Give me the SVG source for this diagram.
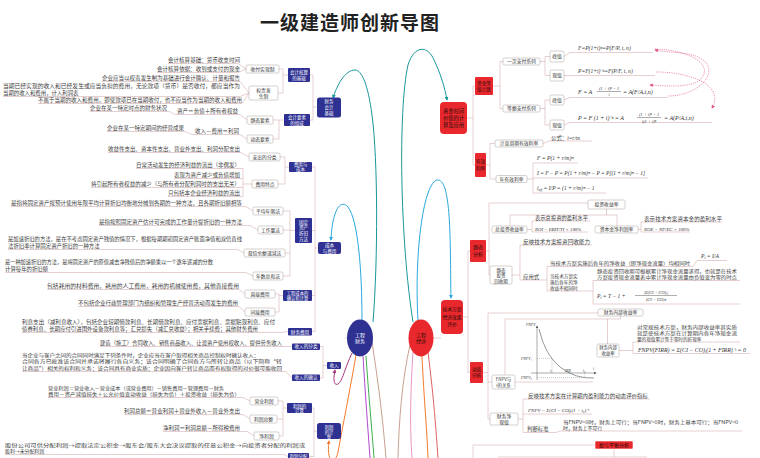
<svg xmlns="http://www.w3.org/2000/svg" width="760" height="458" viewBox="0 0 760 458">
<defs>
<style>
text{font-family:"Noto Sans CJK SC","Noto Sans",sans-serif}
.t{font-size:5.4px;fill:#3b3b3b}
.t5{font-size:4.9px;fill:#3b3b3b}
.f{font-family:"Liberation Serif","Noto Sans CJK SC",serif;font-style:italic;font-size:5.6px;fill:#333}
.fs{font-family:"Liberation Serif","Noto Sans CJK SC",serif;font-style:italic;font-size:4.4px;fill:#333;text-anchor:middle}
.bt{font-size:4.6px;fill:#fff;text-anchor:middle}
.wt{font-size:4.8px;fill:#333;text-anchor:middle}
.rt{font-size:4.8px;fill:#2a0a0a;text-anchor:middle}
.wb{fill:#fff;stroke:#a99c9c;stroke-width:.5}
.bb{fill:#2e3192}
.rb{fill:#e8282c}
.ln{fill:none;stroke:#d7aeb0;stroke-width:.6}
.c{fill:none;stroke-width:1}
.d{fill:none;stroke:#e2507c;stroke-width:.6;stroke-dasharray:1.2 1}
.ax{fill:none;stroke:#555;stroke-width:.5}
.dl{fill:none;stroke:#777;stroke-width:.4;stroke-dasharray:1 1}
.cl{font-family:"Liberation Serif",serif;font-style:italic;font-size:3.8px;fill:#333}
</style>
<marker id="mT" viewBox="0 0 10 10" refX="8" refY="5" markerWidth="4" markerHeight="4" orient="auto"><path d="M0,0L10,5L0,10z" fill="#17979c"/></marker>
<marker id="mC" viewBox="0 0 10 10" refX="8" refY="5" markerWidth="4" markerHeight="4" orient="auto"><path d="M0,0L10,5L0,10z" fill="#2aa8dc"/></marker>
<marker id="mM" viewBox="0 0 10 10" refX="8" refY="5" markerWidth="4" markerHeight="4" orient="auto"><path d="M0,0L10,5L0,10z" fill="#a6337c"/></marker>
<marker id="mO" viewBox="0 0 10 10" refX="8" refY="5" markerWidth="4" markerHeight="4" orient="auto"><path d="M0,0L10,5L0,10z" fill="#f47a2b"/></marker>
<marker id="mP" viewBox="0 0 10 10" refX="8" refY="5" markerWidth="6" markerHeight="6" orient="auto"><path d="M0,0L10,5L0,10z" fill="#e2507c"/></marker>
<marker id="mA" viewBox="0 0 10 10" refX="8" refY="5" markerWidth="6" markerHeight="6" orient="auto"><path d="M0,0L10,5L0,10z" fill="#555"/></marker>
</defs>
<rect width="760" height="458" fill="#fff"/>
<text x="350" y="30" text-anchor="middle" font-size="19" font-weight="bold" fill="#222" letter-spacing="1">一级建造师创新导图</text>

<g id="connectors">
<path class="ln" d="M168,63.5H238L246,69M157,72.5H238L246,69M102,81.5H240L249,93M3,96.5H240L249,93M38,103.5H242L249,93M90,111.5H168C172,111.5 172,114.5 177,114.5H240L247,120M107,131.5H184C188,131.5 189,134.5 193,134.5H240L247,139M108,152.5H241L249,157M136,168.5H243M174,178.5H243M91,187.5H243M168,196.5H243M243,168.5V196.5M243,184H252M11,206.5H246L253,211M99,225.5H250L258,230M8,249.5H238L244,253M5,272.5H246L253,276M47,289.5H239L245,294M78,306.5H239L245,312M22,332.5H282L288,331.5M100,346.5H292M22,371.5H286L292,378M48,397.5H243L250,401M124,414.5H243L250,419M163,431.5H247L254,436M5,454.5H284L288,456.5"/>
<path class="ln" d="M279,69H283V93H278M283,75H288M273,120H279V139H273M279,120H284M310,75H313V120H310M313,107H317M280,157H285V184H278M285,167H289M283,211H290V276H283M283,230H290M285,253H290M290,230.5H295M275,294H279V312H275M279,295.5H283M312,167H315V331.5H312M312,230.5H315M312,295.5H315M315,248H318M320,346.5H323V378H320M323,365.5H327M278,401H283V436H279M277,419H283M283,408H287M312,408H314V456.5H309M314,431H317M345,338H348"/>
<path class="ln" d="M467,118H473M473,86V165M473,86H475M473,165H475M493,86H500M503,61.5H500V108.5H503M540,61.5H545M550,56.5H545V75.5H550M540,108.5H545M550,100H545V125H550M564,56.5L570,52.5H652M564,75.5H655M564,100L570,97.5H668M564,125L570,122.5H712M486,165H490M495,143.5H490V179H496M543,143.5L549,141H592M527,179H533M533,163V193M533,163H578M533,178H648M533,193H606"/>
<path class="ln" d="M433,338H441M463,317H468M468,251V372.5M468,251H470M468,372.5H470M486,251H489M489,203V275H490M489,203H588M606.5,209V215M510,215H617M510,215V226M617,215V226M527,229.5H532M532,221V232M532,221H590M532,232H588M638,229.5H641M641,222V232M641,222H722M641,232H690M512,275H520M520,245V280M520,245H592M520,280H544M544,280H547M547,266.5V291M547,266.5H693L697,260.5H727M547,291H590M590,291H593M593,280.5V304M593,280.5H740M593,304H740"/>
<path class="ln" d="M483,372.5H488M488,313V419H490M488,313H598M488,382H492M620.5,316V319M505,319H620.5M607.5,319V344M505,319V375M619,350.5H633M633,342V353.5M633,342H740M633,353.5H750M515,382H593M518,419H523M523,399V432.5M523,399H650M523,414H592M523,432.5H556L560,431H742M473,445H595M473,445V458M614,449V457M498,457H647"/>
<path class="c" stroke="#17979c" marker-end="url(#mT)" d="M373,322C378,260 378,160 372,115C368,85 362,70 355,70C345,70 337,85 333,98"/>
<path class="c" stroke="#2aa8dc" marker-end="url(#mC)" d="M362,321C362,270 358,220 348,207C340,198 332,212 331,240"/>
<path class="c" stroke="#17979c" marker-end="url(#mT)" d="M413,322C400,240 398,110 408,65C414,45 428,45 434,60C440,72 445,88 447,100"/>
<path class="c" stroke="#2aa8dc" marker-end="url(#mC)" d="M418,321C414,250 424,180 438,180C452,180 450,250 451,298"/>
<path class="c" stroke="#a6337c" marker-end="url(#mM)" d="M352,353C345,368 342,382 338,384C334,386 333,380 335,370"/>
<path class="c" stroke="#f47a2b" marker-end="url(#mO)" d="M356,355C350,390 342,430 338,452C335,466 326,462 329,441"/>
<path class="c" stroke="#b04ad0" d="M363,356C365,390 368,430 370,458"/>
<path class="c" stroke="#3cb04a" stroke-width=".8" d="M366,356C369,400 372,430 374,458"/>
<path class="c" stroke="#c9a090" stroke-width=".8" d="M372,342C378,380 383,420 386,458"/>
<path class="c" stroke="#c9a090" stroke-width=".8" d="M410,345C402,380 399,420 398,458"/>
<path class="c" stroke="#e898c0" stroke-width=".8" d="M413,352C410,400 410,430 412,458"/>
<path class="c" stroke="#f47a2b" d="M422,356C424,400 427,430 428,458"/>
<path class="c" stroke="#e06060" stroke-width=".8" d="M428,352C434,400 436,430 438,458"/>
<path class="d" marker-end="url(#mP)" d="M655,49C690,50 715,65 700,80C690,88 665,86 650,85"/>
<path class="d" marker-end="url(#mP)" d="M656,72C690,72 725,85 712,108"/>
<path class="d" marker-end="url(#mP)" d="M668,96C700,96 722,70 700,58C690,52 670,53 655,50"/>
</g>

<g id="n-caiwu"><ellipse cx="360" cy="338" rx="13" ry="18.5" fill="#2e3192"/><text class="bt" style="font-size:5px" x="360" y="336.5">工程</text><text class="bt" style="font-size:5px" x="360" y="343">财务</text></g>
<g id="n-jingji"><ellipse cx="421" cy="338" rx="12.5" ry="18.5" fill="#e8282c"/><text class="rt" style="font-size:5px" x="421" y="336.5">工程</text><text class="rt" style="font-size:5px" x="421" y="343">经济</text></g>

<g id="n-cwkjjc"><rect class="bb" x="317" y="97.5" width="24" height="20" rx="2.5"/><text class="bt" style="font-size:4.4px" x="329" y="103.2">财务</text><text class="bt" style="font-size:4.4px" x="329" y="109.2">会计</text><text class="bt" style="font-size:4.4px" x="329" y="115.2">基础</text></g>
<g id="n-hsjc"><rect class="bb" x="288" y="68" width="22" height="14" rx="1"/><text class="bt" style="font-size:4.5px" x="299" y="73.8">会计核算</text><text class="bt" style="font-size:4.5px" x="299" y="79.5">的基础</text></g>
<g id="n-kjys"><rect class="bb" x="284" y="114" width="26" height="12" rx="1"/><text class="bt" style="font-size:4.5px" x="297" y="119">会计要素</text><text class="bt" style="font-size:4.5px" x="297" y="124.5">的组成</text></g>
<g id="n-cbfy"><rect class="bb" x="318" y="242" width="23" height="12" rx="2"/><text class="bt" x="329.5" y="247.3">成本</text><text class="bt" x="329.5" y="252.5">与费用</text></g>
<g id="n-fycb"><rect class="bb" x="289" y="162" width="23" height="10" rx="1"/><text class="bt" style="font-size:4.4px" x="300.5" y="166.3">费用与</text><text class="bt" style="font-size:4.4px" x="300.5" y="171">成本</text></g>
<g id="n-zjff"><rect class="bb" x="295" y="218" width="17" height="25" rx="1"/><text class="bt" style="font-size:4.6px" x="303.5" y="223.8">固定</text><text class="bt" style="font-size:4.6px" x="303.5" y="229.4">资产</text><text class="bt" style="font-size:4.6px" x="303.5" y="235">折旧</text><text class="bt" style="font-size:4.6px" x="303.5" y="240.6">方法</text></g>
<g id="n-gccb"><rect class="bb" x="283" y="290" width="29" height="11" rx="1"/><text class="bt" style="font-size:4.3px" x="297.5" y="294.8">工程成本的</text><text class="bt" style="font-size:4.3px" x="297.5" y="299.5">确认和计算</text></g>
<g id="n-cwfy"><rect class="bb" x="288" y="328" width="24" height="7.5" rx="1"/><text class="bt" x="300" y="333.5">财务费用</text></g>
<g id="n-sr"><rect class="bb" x="327" y="362" width="14" height="7" rx="1"/><text class="bt" x="334" y="367.3">收入</text></g>
<g id="n-srfl"><rect class="bb" x="292" y="343.5" width="28" height="6.5" rx="1"/><text class="bt" x="306" y="348.4">收入的分类</text></g>
<g id="n-srqr"><rect class="bb" x="292" y="374.5" width="28" height="6.5" rx="1"/><text class="bt" x="306" y="379.4">收入的确认</text></g>
<g id="n-lr"><rect class="bb" x="317" y="423" width="24" height="16" rx="2.5"/><text class="bt" style="font-size:4.3px" x="329" y="428.8">利润</text><text class="bt" style="font-size:4.3px" x="329" y="433.8">的计</text><text class="bt" style="font-size:4.3px" x="329" y="438.6">算</text></g>
<g id="n-lrjs"><rect class="bb" x="287" y="403" width="25" height="10" rx="1"/><text class="bt" style="font-size:4.4px" x="299.5" y="407.5">利润的</text><text class="bt" style="font-size:4.4px" x="299.5" y="412">计算</text></g>
<g id="n-lrfp"><rect class="bb" x="288" y="453" width="21" height="7" rx="1"/><text class="bt" style="font-size:4.4px" x="298.5" y="458">利润分配</text></g>

<g id="n-sfsx"><text class="t" x="168" y="62" textLength="72" lengthAdjust="spacingAndGlyphs">会计核算基础：货币收支时间</text><text class="t" x="157" y="71" textLength="83" lengthAdjust="spacingAndGlyphs">会计核算依据：收到或支付的现金</text><rect class="wb" x="246" y="65" width="33" height="8" rx="1.5"/><text class="wt" x="262.5" y="70.8">收付实现制</text></g>
<g id="n-qzfs"><text class="t" x="102" y="80" textLength="138" lengthAdjust="spacingAndGlyphs">企业应当以权责发生制为基础进行会计确认、计量和报告</text><text class="t" x="3" y="88" textLength="237" lengthAdjust="spacingAndGlyphs">当期已经实现的收入和已经发生或应当负担的费用，无论款项（货币）是否收付，都应当作为</text><text class="t" x="3" y="95">当期的收入和费用，计入利润表</text><text class="t" x="38" y="102" textLength="204" lengthAdjust="spacingAndGlyphs">不属于当期的收入和费用，即使款项已在当期收付，也不应当作为当期的收入和费用</text><rect class="wb" x="249" y="86" width="29" height="14" rx="1.5"/><text class="wt" x="263.5" y="92">权责发</text><text class="wt" x="263.5" y="98">生制</text></g>
<g id="n-jtys"><text class="t" x="90" y="110" textLength="77" lengthAdjust="spacingAndGlyphs">企业在某一特定时点的财务状况</text><text class="t" x="177" y="113" textLength="61" lengthAdjust="spacingAndGlyphs">资产＝负债＋所有者权益</text><rect class="wb" x="247" y="116" width="26" height="8" rx="1.5"/><text class="wt" x="260" y="121.8">静态要素</text></g>
<g id="n-dtys"><text class="t" x="107" y="130" textLength="77" lengthAdjust="spacingAndGlyphs">企业在某一特定期间的经营成果</text><text class="t" x="195" y="133" textLength="44" lengthAdjust="spacingAndGlyphs">收入－费用＝利润</text><rect class="wb" x="247" y="135" width="26" height="8" rx="1.5"/><text class="wt" x="260" y="140.8">动态要素</text></g>
<g id="n-zcfl"><text class="t" x="108" y="151" textLength="132" lengthAdjust="spacingAndGlyphs">收益性支出、资本性支出、营业外支出、利润分配支出</text><rect class="wb" x="249" y="153" width="31" height="8" rx="1.5"/><text class="wt" x="264.5" y="158.8">支出的分类</text></g>
<g id="n-fytd"><text class="t" x="136" y="167" textLength="104" lengthAdjust="spacingAndGlyphs">日常活动发生的经济利益的流出（非偶发）</text><text class="t" x="174" y="177" textLength="66" lengthAdjust="spacingAndGlyphs">表现为资产减少或负债增加</text><text class="t" x="91" y="186" textLength="149" lengthAdjust="spacingAndGlyphs">将引起所有者权益的减少（与所有者分配利润时的支出无关）</text><text class="t" x="168" y="195" textLength="72" lengthAdjust="spacingAndGlyphs">只包括本企业经济利益的流出</text><rect class="wb" x="252" y="180" width="26" height="8" rx="1.5"/><text class="wt" x="265" y="185.8">费用特点</text></g>
<g id="n-pjnx"><text class="t" x="11" y="205" textLength="231" lengthAdjust="spacingAndGlyphs">是指将固定资产按预计使用年限平均计算折旧均衡地分摊到各期的一种方法，且各期折旧额相等</text><rect class="wb" x="253" y="207" width="30" height="8" rx="1.5"/><text class="wt" x="268" y="212.8">平均年限法</text></g>
<g id="n-gzl"><text class="t" x="99" y="224" textLength="143" lengthAdjust="spacingAndGlyphs">是指按照固定资产估计可完成的工作量计提折旧的一种方法</text><rect class="wb" x="258" y="226" width="25" height="8" rx="1.5"/><text class="wt" x="270.5" y="231.8">工作量法</text></g>
<g id="n-sbye"><text class="t" x="8" y="241" textLength="234" lengthAdjust="spacingAndGlyphs">是加速折旧的方法，是在不考虑固定资产残值的情况下，根据每期期初固定资产账面净值和双倍直线</text><text class="t" x="8" y="248">法折旧率计算固定资产折旧的一种方法</text><rect class="wb" x="244" y="249" width="41" height="8" rx="1.5"/><text class="wt" x="264.5" y="254.8">双倍余额递减法</text></g>
<g id="n-nszh"><text class="t" x="5" y="264" textLength="208" lengthAdjust="spacingAndGlyphs">是一种加速折旧的方法，是将固定资产的原值减去净残值后的净额乘以一个逐年递减的分数</text><text class="t" x="5" y="271">计算每年的折旧额</text><rect class="wb" x="253" y="272" width="30" height="8" rx="1.5"/><text class="wt" x="268" y="277.8">年数总和法</text></g>
<g id="n-zjfy"><text class="t" x="47" y="288" textLength="192" lengthAdjust="spacingAndGlyphs">包括耗用的材料费用，耗用的人工费用，耗用的机械使用费，其他直接费用</text><rect class="wb" x="245" y="290" width="30" height="8" rx="1.5"/><text class="wt" x="260" y="295.8">直接费用</text></g>
<g id="n-jjfy"><text class="t" x="78" y="305" textLength="160" lengthAdjust="spacingAndGlyphs">不包括企业行政管理部门为组织和管理生产经营活动而发生的费用</text><rect class="wb" x="245" y="308" width="30" height="8" rx="1.5"/><text class="wt" x="260" y="313.8">间接费用</text></g>
<g id="n-lxzc"><text class="t" x="22" y="324" textLength="253" lengthAdjust="spacingAndGlyphs">利息支出（减利息收入），包括企业短期借款利息、长期借款利息、应付票据利息、票据贴现利息、应付</text><text class="t" x="22" y="331" textLength="236" lengthAdjust="spacingAndGlyphs">债券利息、长期应付引进国外设备款利息等；汇兑损失（减汇兑收益）；相关手续费；其他财务费用</text></g>
<g id="n-srlx"><text class="t" x="100" y="345" textLength="182" lengthAdjust="spacingAndGlyphs">建造（施工）合同收入、销售商品收入、让渡资产使用权收入、提供劳务收入</text></g>
<g id="n-srtj"><text class="t5" x="22" y="357" textLength="237" lengthAdjust="spacingAndGlyphs">当企业与客户之间的合同同时满足下列条件时，企业应当在客户取得相关商品控制权时确认收入：</text><text class="t5" x="22" y="363.3" textLength="260" lengthAdjust="spacingAndGlyphs">合同各方已批准该合同并承诺将履行各自义务；该合同明确了合同各方与所转让商品（以下简称“转</text><text class="t5" x="22" y="369.6" textLength="260" lengthAdjust="spacingAndGlyphs">让商品”）相关的权利和义务；该合同具有商业实质；企业因向客户转让商品而有权取得的对价很可能收回</text></g>
<g id="n-yylr"><text class="t5" x="48" y="390" textLength="176" lengthAdjust="spacingAndGlyphs">营业利润＝营业收入－营业成本（或营业费用）－销售费用－管理费用－财务</text><text class="t5" x="48" y="396.3" textLength="192" lengthAdjust="spacingAndGlyphs">费用－资产减值损失＋公允价值变动收益（损失为负）＋投资收益（损失为负）</text><rect class="wb" x="250" y="397" width="28" height="8" rx="1.5"/><text class="wt" x="264" y="402.8">营业利润</text></g>
<g id="n-lrze"><text class="t" x="124" y="413" textLength="116" lengthAdjust="spacingAndGlyphs">利润总额＝营业利润＋营业外收入－营业外支出</text><rect class="wb" x="250" y="415" width="27" height="8" rx="1.5"/><text class="wt" x="263.5" y="420.8">利润总额</text></g>
<g id="n-jlr"><text class="t" x="163" y="430" textLength="77" lengthAdjust="spacingAndGlyphs">净利润＝利润总额－所得税费用</text><rect class="wb" x="254" y="432" width="25" height="8" rx="1.5"/><text class="wt" x="266.5" y="437.8">净利润</text></g>
<g id="n-fpsx"><text class="t5" x="5" y="446.8" textLength="300" lengthAdjust="spacingAndGlyphs">股份公司可供分配利润→提取法定公积金→股东会/股东大会决议提取的任意公积金→向投资者分配的利润或</text><text class="t5" x="5" y="453.2">股利→未分配利润</text></g>

<g id="n-zjsj"><rect class="rb" x="440" y="102" width="27" height="32" rx="4"/><text class="rt" style="font-size:5.2px" x="453.5" y="113">资金时间</text><text class="rt" style="font-size:5.2px" x="453.5" y="120">价值的计</text><text class="rt" style="font-size:5.2px" x="453.5" y="127">算及应用</text></g>
<g id="n-zjdz"><rect class="rb" x="475" y="77" width="18" height="18" rx="1"/><text class="rt" style="font-size:4.6px" x="484" y="84.5">资金等</text><text class="rt" style="font-size:4.6px" x="484" y="91">值计算</text></g>
<g id="n-yczf"><rect class="wb" x="503" y="58" width="37" height="7" rx="1.5"/><text class="wt" x="521.5" y="63.4">一次支付系列</text></g>
<g id="n-zz1"><rect class="wb" x="550" y="51" width="14" height="11" rx="1.5"/><text class="wt" x="557" y="58.2">终值</text><text class="f" x="578" y="50">F=P(1+i)ⁿ=P(F/P, i, n)</text></g>
<g id="n-xz1"><rect class="wb" x="550" y="70" width="14" height="11" rx="1.5"/><text class="wt" x="557" y="77.2">现值</text><text class="f" x="578" y="73">P=F(1+i)⁻ⁿ=F(P/F, i, n)</text></g>
<g id="n-dezf"><rect class="wb" x="503" y="105" width="37" height="7" rx="1.5"/><text class="wt" x="521.5" y="110.4">等额支付系列</text></g>
<g id="n-zz2"><rect class="wb" x="550" y="95" width="14" height="10" rx="1.5"/><text class="wt" x="557" y="101.7">终值</text><text class="f" style="font-size:6px" x="578" y="94">F = A</text><text class="fs" x="609" y="90">(1 + i)ⁿ − 1</text><path d="M597,91.5H621" stroke="#333" stroke-width=".4"/><text class="fs" x="609" y="96">i</text><text class="f" style="font-size:6px" x="623" y="94">= A(F/A,i,n)</text></g>
<g id="n-xz2"><rect class="wb" x="550" y="120" width="14" height="10" rx="1.5"/><text class="wt" x="557" y="126.7">现值</text><text class="f" style="font-size:6px" x="578" y="119.5">P = F (1 + i)⁻ⁿ = A</text><text class="fs" x="649" y="116">(1 + i)ⁿ − 1</text><path d="M637,117.5H661" stroke="#333" stroke-width=".4"/><text class="fs" x="649" y="122.5">i(1 + i)ⁿ</text><text class="f" style="font-size:6px" x="664" y="119.5">= A(P/A,i,n)</text></g>
<g id="n-yxll"><rect class="rb" x="475" y="153" width="11" height="24" rx="1"/><text class="rt" style="font-size:4.6px" x="480.5" y="163">有效</text><text class="rt" style="font-size:4.6px" x="480.5" y="170">利率</text></g>
<g id="n-jxzq"><rect class="wb" x="495" y="140" width="48" height="7" rx="1.5"/><text class="wt" x="519" y="145.4">计息周期有效利率</text><text class="t" x="551" y="139.5">公式：<tspan class="f" style="font-size:5.4px">i=r/m</tspan></text></g>
<g id="n-nyxll"><rect class="wb" x="496" y="175.5" width="31" height="7" rx="1.5"/><text class="wt" x="511.5" y="180.9">年有效利率</text><text class="f" x="537" y="160">F = P(1 + r/m)ᵐ</text><text class="f" x="537" y="175" textLength="108" lengthAdjust="spacingAndGlyphs">I = F − P = P(1 + r/m)ᵐ − P = P[(1 + r/m)ᵐ − 1]</text><text class="f" x="537" y="190">i<tspan style="font-size:3.6px" dy="1">eff</tspan><tspan dy="-1"> = I/P = (1 + r/m)ᵐ − 1</tspan></text></g>

<g id="n-jjxg"><rect class="rb" x="441" y="300" width="22" height="34" rx="4"/><text class="rt" x="452" y="311">技术方案</text><text class="rt" x="452" y="318.5">经济效果</text><text class="rt" x="452" y="326">评价</text></g>
<g id="n-jtfx"><rect class="rb" x="470" y="240" width="16" height="22" rx="1"/><text class="rt" style="font-size:5px" x="478" y="249">静态</text><text class="rt" style="font-size:5px" x="478" y="256">分析</text></g>
<g id="n-tzsy"><rect class="wb" x="588" y="200" width="37" height="9" rx="1.5"/><text class="wt" x="606.5" y="206.4">投资收益率</text></g>
<g id="n-ztz"><rect class="wb" x="492" y="226" width="35" height="7" rx="1.5"/><text class="wt" x="509.5" y="231.4">总投资收益率</text><text class="t" x="535" y="219.8" textLength="53" lengthAdjust="spacingAndGlyphs">表示总投资的盈利水平</text><text class="f" style="font-size:4.8px" x="535" y="230.5">ROI = EBIT/TI × 100%</text></g>
<g id="n-zbj"><rect class="wb" x="595" y="226" width="43" height="7" rx="1.5"/><text class="wt" x="616.5" y="231.4">资本金净利润率</text><text class="t" x="644" y="220.5" textLength="78" lengthAdjust="spacingAndGlyphs">表示技术方案资本金的盈利水平</text><text class="f" style="font-size:4.8px" x="644" y="230.5">ROE = NP/EC × 100%</text></g>
<g id="n-hsq"><rect class="wb" x="490" y="266" width="22" height="18" rx="1.5"/><text class="wt" style="font-size:4.5px" x="501" y="271.5">静态</text><text class="wt" style="font-size:4.5px" x="501" y="277">投资</text><text class="wt" style="font-size:4.5px" x="501" y="282.5">回收期</text><text class="t" x="523" y="243.5" textLength="67" lengthAdjust="spacingAndGlyphs">反映技术方案投资回收能力</text><text class="t" x="523" y="278.5">应用式</text></g>
<g id="n-xt"><text class="t5" x="550" y="265" textLength="140" lengthAdjust="spacingAndGlyphs">当技术方案实施后各年的净收益（即净现金流量）均相同时</text><text class="f" x="701" y="258">P<tspan style="font-size:3.6px" dy="1">t</tspan><tspan dy="-1"> = I/A</tspan></text></g>
<g id="n-bxt"><text class="t5" style="font-size:4.6px" x="550" y="278">当技术方案实</text><text class="t5" style="font-size:4.6px" x="550" y="284">施后各年的净</text><text class="t5" style="font-size:4.6px" x="550" y="290">收益不相同时</text><text class="t5" x="597" y="273" textLength="140" lengthAdjust="spacingAndGlyphs">静态投资回收期可根据累计净现金流量求得，也就是在技术</text><text class="t5" x="597" y="279.3" textLength="140" lengthAdjust="spacingAndGlyphs">方案投资现金流量表中累计净现金流量由负值变为零的时点</text><text class="f" x="597" y="298">P<tspan style="font-size:3.6px" dy="1">t</tspan><tspan dy="-1"> = T − 1 +</tspan></text><text class="fs" x="656" y="294">|Σ(CI − CO)ₜ|</text><path d="M635,295.5H677" stroke="#333" stroke-width=".4"/><text class="fs" x="656" y="300.8">(CI − CO)ᴛ</text></g>
<g id="n-dtfx"><rect class="rb" x="470" y="362" width="13" height="21" rx="1"/><text class="rt" style="font-size:4.6px" x="476.5" y="370.5">动态</text><text class="rt" style="font-size:4.6px" x="476.5" y="377">分析</text></g>
<g id="n-nbsy"><rect class="wb" x="598" y="309" width="45" height="7" rx="1.5"/><text class="wt" x="620.5" y="314.4">财务内部收益率</text></g>
<g id="n-nbsy2"><rect class="wb" x="597" y="344" width="22" height="13" rx="1.5"/><text class="wt" style="font-size:4.4px" x="608" y="349.3">财务内部</text><text class="wt" style="font-size:4.4px" x="608" y="355">收益率</text><text class="t5" style="font-size:4.6px" x="637" y="328.5" textLength="100" lengthAdjust="spacingAndGlyphs">对常规技术方案，财务内部收益率其实质</text><text class="t5" style="font-size:4.6px" x="637" y="334.5" textLength="100" lengthAdjust="spacingAndGlyphs">就是使技术方案在计算期内各年净现金流</text><text class="t5" style="font-size:4.6px" x="637" y="340.5">量的现值累计等于零时的折现率</text><text class="f" style="font-size:5.2px" x="638" y="351.5" textLength="108" lengthAdjust="spacingAndGlyphs">FNPV(FIRR) = Σ(CI − CO)ₜ(1 + FIRR)⁻ᵗ = 0</text></g>
<g id="n-fnpvi"><rect class="wb" x="492" y="375" width="23" height="14" rx="1.5"/><text class="wt" style="font-size:4.4px" x="503.5" y="380.5">FNPV与</text><text class="wt" style="font-size:4.4px" x="503.5" y="386.5">i的关系</text></g>
<g id="chart">
<path class="ax" marker-end="url(#mA)" d="M537,380V326"/>
<path class="ax" marker-end="url(#mA)" d="M531,373H596"/>
<path fill="none" stroke="#333" stroke-width=".5" d="M539,329Q545,355 560,367T594,378"/>
<path class="dl" d="M537,358.5H552V373M537,377.6H584.7V373"/>
<text class="cl" x="526" y="326">FNPV</text>
<text class="cl" x="521" y="360">FNPV₁</text>
<text class="cl" x="521" y="379">FNPV₂</text>
<text class="cl" x="550" y="371.5">i₁</text>
<text class="cl" x="565" y="371.5">IRR</text>
<text class="cl" x="583" y="371.5">i₂</text>
<text class="cl" x="593" y="370">i</text>
</g>
<g id="n-cwjxz"><rect class="wb" x="490" y="413" width="28" height="12" rx="1.5"/><text class="wt" x="504" y="418">财务净</text><text class="wt" x="504" y="423.5">现值</text><text class="t" x="528" y="397.5" textLength="120" lengthAdjust="spacingAndGlyphs">反映技术方案在计算期内盈利能力的动态评价指标</text><text class="f" style="font-size:5px" x="528" y="411.5">FNPV = Σ(CI − CO)ₜ(1 + i<tspan style="font-size:3.5px" dy="1">c</tspan><tspan dy="-1">)⁻ᵗ</tspan></text><text class="t" x="527" y="430.5">判断标准</text><text class="t5" x="563" y="423.5" textLength="175" lengthAdjust="spacingAndGlyphs">当FNPV&gt;0时，财务上可行；当FNPV=0时，财务上基本可行；当FNPV&lt;0</text><text class="t5" x="563" y="429.5">时，财务上不可行</text></g>
<g id="n-ykph"><rect class="rb" x="595" y="441" width="38" height="8" rx="1" stroke="#fff" stroke-width=".6"/><text class="rt" style="font-size:5px" x="614" y="447">盈亏平衡分析</text></g>
</svg>
